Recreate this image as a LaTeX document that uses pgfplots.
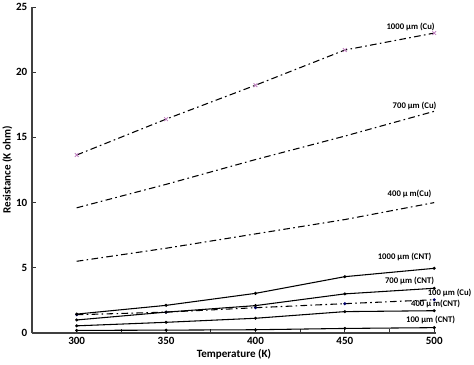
\documentclass[border=0pt]{standalone}
\usepackage{pgfplots}
\pgfplotsset{compat=1.18}
\usepackage{fontspec}
\setmainfont{Carlito}
\begin{document}
\begin{tikzpicture}
\begin{axis}[
  scale only axis, width=303pt, height=244.5pt,
  xmin=275, xmax=501, ymin=0, ymax=25,
  axis lines*=left, axis line style={line width=0.9pt, draw=black!75, -},
  xtick={300,350,400,450,500}, minor xtick={325,375,425,475},
  ytick={0,5,10,15,20,25},
  tick align=inside, major tick length=3pt, minor tick length=3pt,
  tick style={black!80, line width=0.6pt},
  ticklabel style={font=\bfseries\fontsize{8.3}{9}\selectfont},
  /pgf/number format/assume math mode=true,
  xlabel={\bfseries Temperature (K)},
  ylabel={\bfseries Resistance (K ohm)},
  label style={font=\bfseries\fontsize{8.3}{9}\selectfont},
  xlabel style={yshift=4pt},
  ylabel style={yshift=-4pt},
  clip=false,
  every axis plot/.append style={line width=0.8pt, black},
]
% Cu series (dash-dot)
\addplot[dash pattern=on 5pt off 2.5pt on 1.2pt off 2.5pt, mark=x, mark size=2pt,
  mark options={solid, draw=violet!50, line width=0.6pt}]
  coordinates {(300,13.65) (350,16.4) (400,19.0) (450,21.7) (500,23.0)};
\addplot[dash pattern=on 5pt off 2.5pt on 1.2pt off 2.5pt]
  coordinates {(300,9.6) (350,11.4) (400,13.3) (450,15.1) (500,17.0)};
\addplot[dash pattern=on 5pt off 2.5pt on 1.2pt off 2.5pt]
  coordinates {(300,5.5) (350,6.5) (400,7.6) (450,8.7) (500,10.0)};
\addplot[dash pattern=on 5pt off 2.5pt on 1.2pt off 2.5pt, mark=*, mark size=0.7pt, mark options={solid, draw=blue!40!black, fill=blue!40!black}]
  coordinates {(300,1.4) (350,1.6) (400,1.94) (450,2.25) (500,2.55)};
% CNT series (solid)
\addplot[mark=*, mark size=0.7pt]
  coordinates {(300,1.45) (350,2.12) (400,3.04) (450,4.32) (500,4.96)};
\addplot[mark=*, mark size=0.7pt]
  coordinates {(300,1.0) (350,1.6) (400,2.1) (450,3.0) (500,3.43)};
\addplot[mark=*, mark size=0.7pt]
  coordinates {(300,0.55) (350,0.82) (400,1.13) (450,1.64) (500,1.71)};
\addplot[mark=*, mark size=0.7pt]
  coordinates {(300,0.2) (350,0.22) (400,0.25) (450,0.35) (500,0.41)};
% labels
\begin{scope}[every node/.style={font=\bfseries\fontsize{6.5}{7}\selectfont, inner sep=0pt}]
\node at (axis cs:486.8,23.49) {1000 µm (Cu)};
\node at (axis cs:489.0,17.41) {700 µm (Cu)};
\node at (axis cs:486.2,10.66) {400 µ m(Cu)};
\node at (axis cs:483.4,5.83) {1000 µm (CNT)};
\node at (axis cs:486.2,4.01) {700 µm (CNT)};
\node at (axis cs:508.6,3.07) {100 µm (Cu)};
\node at (axis cs:500.8,2.22) {400 µ m(CNT)};
\node at (axis cs:498.0,1.0) {100 µm (CNT)};
\end{scope}
\end{axis}
\pgfresetboundingbox
\path[use as bounding box] (current axis.south west) ++(-24pt,-23.25pt) rectangle ++(355.5pt,273pt);
\end{tikzpicture}
\end{document}
